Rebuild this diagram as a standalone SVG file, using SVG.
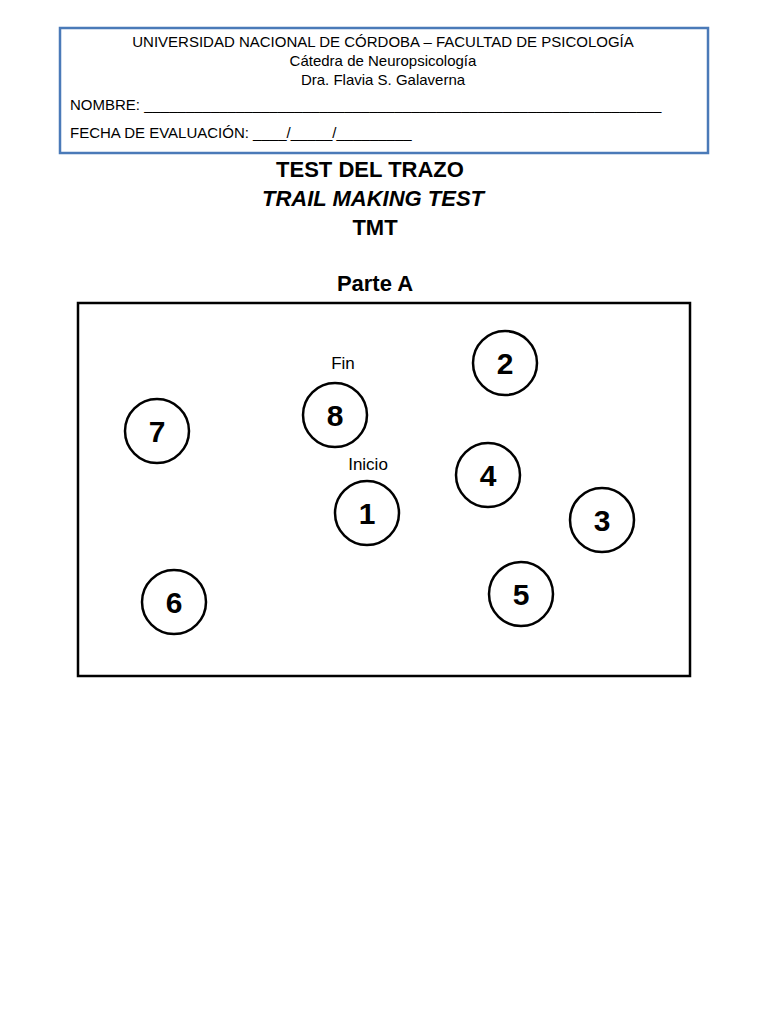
<svg xmlns="http://www.w3.org/2000/svg" width="768" height="1024" viewBox="0 0 768 1024">
<style>
text{font-family:"Liberation Sans",Arial,sans-serif;fill:#000}
.h{font-size:15px;text-anchor:middle}
.f{font-size:15px}
.t{font-size:22px;font-weight:bold;text-anchor:middle}
.c{fill:#fff;stroke:#000;stroke-width:2.5}
.n{font-size:30px;font-weight:bold;text-anchor:middle}
.l{font-size:17px;text-anchor:middle}
</style>
<rect width="768" height="1024" fill="#fff"/>
<rect x="60" y="28" width="648" height="125" fill="#fff" stroke="#4a7ab8" stroke-width="2.5"/>
<text class="h" x="383" y="47">UNIVERSIDAD NACIONAL DE CÓRDOBA – FACULTAD DE PSICOLOGÍA</text>
<text class="h" x="383" y="66">Cátedra de Neuropsicología</text>
<text class="h" x="383" y="85">Dra. Flavia S. Galaverna</text>
<text class="f" x="70" y="110">NOMBRE: <tspan>______________________________________________________________</tspan></text>
<text class="f" x="70" y="138">FECHA DE EVALUACIÓN: ____/_____/_________</text>
<text class="t" x="370" y="177">TEST DEL TRAZO</text>
<text class="t" x="373" y="206" font-style="italic">TRAIL MAKING TEST</text>
<text class="t" x="375" y="235">TMT</text>
<text class="t" x="375" y="291">Parte A</text>
<rect x="78" y="303" width="612" height="373" fill="none" stroke="#000" stroke-width="2.5"/>
<text class="l" x="343" y="369">Fin</text>
<text class="l" x="368" y="470">Inicio</text>
<g id="n2"><circle class="c" cx="505" cy="363" r="32"/><text class="n" x="505" y="374">2</text></g>
<g id="n8"><circle class="c" cx="335" cy="415" r="32"/><text class="n" x="335" y="426">8</text></g>
<g id="n7"><circle class="c" cx="157" cy="431" r="32"/><text class="n" x="157" y="442">7</text></g>
<g id="n4"><circle class="c" cx="488" cy="475" r="32"/><text class="n" x="488" y="486">4</text></g>
<g id="n1"><circle class="c" cx="367" cy="513" r="32"/><text class="n" x="367" y="524">1</text></g>
<g id="n3"><circle class="c" cx="602" cy="520" r="32"/><text class="n" x="602" y="531">3</text></g>
<g id="n6"><circle class="c" cx="174" cy="602" r="32"/><text class="n" x="174" y="613">6</text></g>
<g id="n5"><circle class="c" cx="521" cy="594" r="32"/><text class="n" x="521" y="605">5</text></g>
<g id="connectors"/>
</svg>
